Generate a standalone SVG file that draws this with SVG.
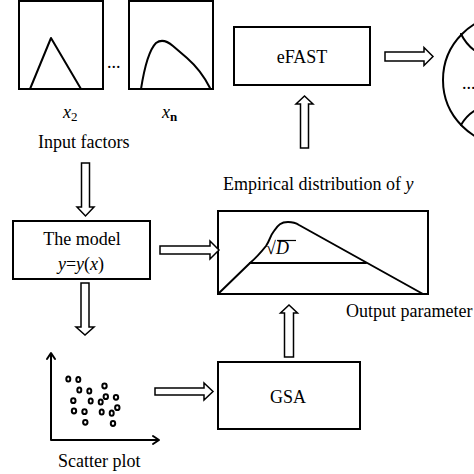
<svg xmlns="http://www.w3.org/2000/svg" width="474" height="474" viewBox="0 0 474 474">
<style>
.box{fill:#fff;stroke:#000;stroke-width:2}
.arr{fill:#fff;stroke:#000;stroke-width:1.5;stroke-linejoin:miter}
.crv{fill:none;stroke:#000;stroke-width:2;stroke-linejoin:round;stroke-linecap:round}
.t{font-family:"Liberation Serif","Times New Roman",serif;font-size:18px;fill:#000}
.dot{fill:#fff;stroke:#000;stroke-width:2}
</style>
<rect width="474" height="474" fill="#fff"/>
<g id="input-factors">
  <rect class="box" x="19" y="1" width="84" height="88"/>
  <polyline class="crv" points="30,89 51,38 81,89"/>
  <rect class="box" x="129" y="1" width="84" height="88"/>
  <path class="crv" d="M141,89 C144,70 149,50 156,43 C160,40 166,40 173,46 L187,58 C195,65 203,74 210,88"/>
  <text class="t" x="107" y="68">...</text>
  <text class="t" x="63" y="118"><tspan font-style="italic">x</tspan><tspan font-size="13" dy="3">2</tspan></text>
  <text class="t" x="162" y="118"><tspan font-style="italic">x</tspan><tspan font-size="13" font-weight="bold" dy="3">n</tspan></text>
  <text class="t" x="38" y="148">Input factors</text>
</g>
<g id="efast">
  <rect class="box" x="234" y="27" width="136" height="58"/>
  <text class="t" x="302" y="63" text-anchor="middle">eFAST</text>
</g>
<g id="result-circle">
  <circle class="crv" cx="508" cy="80" r="65"/>
  <path class="crv" d="M461,34 Q466,44 474,50"/>
  <path class="crv" d="M461,125 Q466,116 474,111"/>
  <text class="t" x="462" y="89" font-size="12">...</text>
</g>
<g id="model">
  <rect class="box" x="13" y="221" width="137" height="58"/>
  <text class="t" x="82" y="245" text-anchor="middle">The model</text>
  <text class="t" x="81" y="270" text-anchor="middle"><tspan font-style="italic">y</tspan>=<tspan font-style="italic">y</tspan>(<tspan font-style="italic">x</tspan>)</text>
</g>
<g id="empirical-distribution">
  <rect class="box" x="218" y="211" width="210" height="83"/>
  <path class="crv" d="M218,294 L250,263 C257,257 262,251 266,246 C270,240 270,236 274,231 C278,225 281,222 288,222 C293,222 296,223 299,225 L423,294"/>
  <line class="crv" x1="250" y1="263" x2="366" y2="263"/>
  <text class="t" x="266" y="254">√</text>
  <line x1="277" y1="240.5" x2="296" y2="240.5" stroke="#000" stroke-width="1.2"/>
  <text class="t" x="276" y="254" font-style="italic">D</text>
  <text class="t" x="223" y="190">Empirical distribution of <tspan font-style="italic">y</tspan></text>
  <text class="t" x="346" y="317">Output parameter</text>
</g>
<g id="gsa">
  <rect class="box" x="218" y="362" width="142" height="67"/>
  <text class="t" x="288" y="403" text-anchor="middle">GSA</text>
</g>
<g id="scatter-plot">
  <polyline class="crv" points="51,354 51,440 158,440" stroke-width="1.8"/>
  <polyline class="crv" points="47,359 51,353 55,359" stroke-width="1.8"/>
  <polyline class="crv" points="153,436 159,440 153,444" stroke-width="1.8"/>
  <ellipse class="dot" cx="68.3" cy="379" rx="2" ry="2.6"/>
  <ellipse class="dot" cx="78.3" cy="379.5" rx="2" ry="2.6"/>
  <ellipse class="dot" cx="79.3" cy="390" rx="2" ry="2.6"/>
  <ellipse class="dot" cx="89.3" cy="391" rx="2" ry="2.6"/>
  <ellipse class="dot" cx="104.5" cy="386" rx="2.2" ry="2.4"/>
  <ellipse class="dot" cx="73.3" cy="400.7" rx="2.2" ry="2.4"/>
  <ellipse class="dot" cx="90.7" cy="401" rx="2" ry="2.6"/>
  <ellipse class="dot" cx="100.7" cy="402" rx="2" ry="2.6"/>
  <ellipse class="dot" cx="105.8" cy="396.7" rx="2.2" ry="2.4"/>
  <ellipse class="dot" cx="116" cy="397.3" rx="2.2" ry="2.4"/>
  <ellipse class="dot" cx="74" cy="411" rx="2.2" ry="2.4"/>
  <ellipse class="dot" cx="84.5" cy="411.7" rx="2.2" ry="2.4"/>
  <ellipse class="dot" cx="101.7" cy="412" rx="2" ry="2.6"/>
  <ellipse class="dot" cx="111.7" cy="413.2" rx="2" ry="2.6"/>
  <ellipse class="dot" cx="117.3" cy="407.7" rx="2.2" ry="2.4"/>
  <ellipse class="dot" cx="85.3" cy="422.3" rx="2.2" ry="2.4"/>
  <ellipse class="dot" cx="113" cy="423.5" rx="2.2" ry="2.4"/>
  <text class="t" x="58" y="467">Scatter plot</text>
</g>
<g id="connectors">
  <polygon class="arr" points="81.5,163 89.5,163 89.5,207 94,207 85.5,216 77,207 81.5,207"/>
  <polygon class="arr" points="81,283 89,283 89,327 94,327 85,335 76,327 81,327"/>
  <polygon class="arr" points="160,246 210,246 210,241 219,250 210,259 210,254 160,254"/>
  <polygon class="arr" points="300.5,148 300.5,104 296,104 304.5,96 313,104 308.5,104 308.5,148"/>
  <polygon class="arr" points="385,52 424,52 424,47.5 433,56.5 424,65.5 424,61 385,61"/>
  <polygon class="arr" points="284.5,357 284.5,313 280.5,313 289,305 297.5,313 293.5,313 293.5,357"/>
  <polygon class="arr" points="155,388 204,388 204,383 213,391.5 204,400 204,395 155,395"/>
</g>
</svg>
